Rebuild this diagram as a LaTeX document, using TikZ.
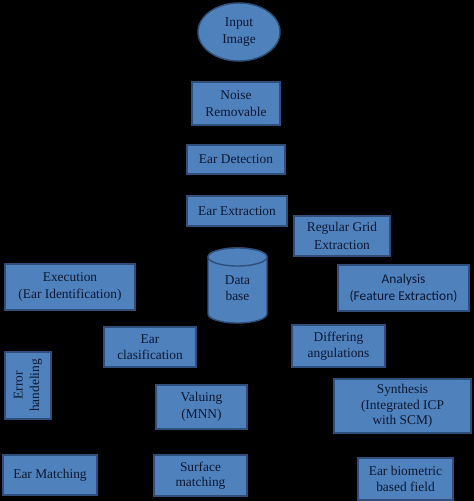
\documentclass[tikz,border=0pt]{standalone}
\usepackage{fontspec}
\setmainfont{Liberation Serif}
\newfontfamily\calib{Carlito}
\usetikzlibrary{shapes.geometric}
\definecolor{boxfill}{HTML}{4F81BD}
\definecolor{boxline}{HTML}{2F4F7A}
\definecolor{txt}{HTML}{0C1830}
\tikzset{
  px/.style={x=1pt,y=-1pt},
  blk/.style={draw=boxline, line width=1.4pt, fill=boxfill, text=txt, align=center,
    inner sep=1pt, font=\fontsize{13.4}{17.5}\selectfont},
  oval/.style={blk, ellipse},
}
\begin{document}
\begin{tikzpicture}[px]
\fill[black] (0,0) rectangle (474,501);
\useasboundingbox (0,0) rectangle (474,501);
\node[oval, minimum width=82pt, minimum height=58pt] (inp) at (239,32) {Input\\Image};
\node[blk, minimum width=88pt, minimum height=43pt] (noise) at (236,103.5) {Noise\\Removable};
\node[blk, minimum width=98pt, minimum height=29pt] (det) at (236,159.5) {Ear Detection};
\node[blk, minimum width=100pt, minimum height=30pt] (ext) at (237,211) {Ear Extraction};
\node[blk, minimum width=96pt, minimum height=40pt] (grid) at (342,236) {Regular Grid\\Extraction};
% database cylinder
\filldraw[draw=boxline, line width=1.4pt, fill=boxfill]
  (208,257) arc[start angle=180, end angle=360, x radius=29.5, y radius=9]
  -- (267,314) arc[start angle=0, end angle=180, x radius=29.5, y radius=9] -- cycle;
\draw[boxline, line width=1.4pt, fill=boxfill] (237.5,257) ellipse[x radius=29.5, y radius=9];
\node[text=txt, align=center, font=\fontsize{13.4}{15.5}\selectfont] (db) at (237.5,288) {Data\\base};
\node[blk, minimum width=130pt, minimum height=46pt] (exec) at (70,287) {Execution\\(Ear Identification)};
\node[blk, minimum width=131pt, minimum height=46pt, font=\calib\fontsize{13.4}{17}\selectfont] (anal) at (403.5,288) {Analysis\\(Feature Extraction)};
\node[blk, minimum width=92pt, minimum height=40pt, font=\fontsize{13.4}{16.5}\selectfont] (cls) at (150,347) {Ear\\clasification};
\node[blk, minimum width=93pt, minimum height=42pt, font=\fontsize{13.4}{15.5}\selectfont] (diff) at (338.5,346) {Differing\\angulations};
\node[blk, minimum width=67pt, minimum height=46pt, rotate=90, font=\fontsize{13.4}{16.5}\selectfont] (err) at (28,385.5) {Error\\handeling};
\node[blk, minimum width=91pt, minimum height=44pt] (val) at (201.5,407) {Valuing\\(MNN)};
\node[blk, minimum width=137pt, minimum height=54pt, font=\fontsize{13.4}{15.5}\selectfont] (syn) at (402.5,406) {Synthesis\\(Integrated ICP\\with SCM)};
\node[blk, minimum width=94pt, minimum height=40pt] (match) at (50,475) {Ear Matching};
\node[blk, minimum width=93pt, minimum height=41pt, font=\fontsize{13.4}{15.5}\selectfont] (surf) at (200.5,475.5) {Surface\\matching};
\node[blk, minimum width=95pt, minimum height=42pt, font=\fontsize{13.4}{16.5}\selectfont] (bio) at (405.5,479) {Ear biometric\\based field};
\end{tikzpicture}
\end{document}
